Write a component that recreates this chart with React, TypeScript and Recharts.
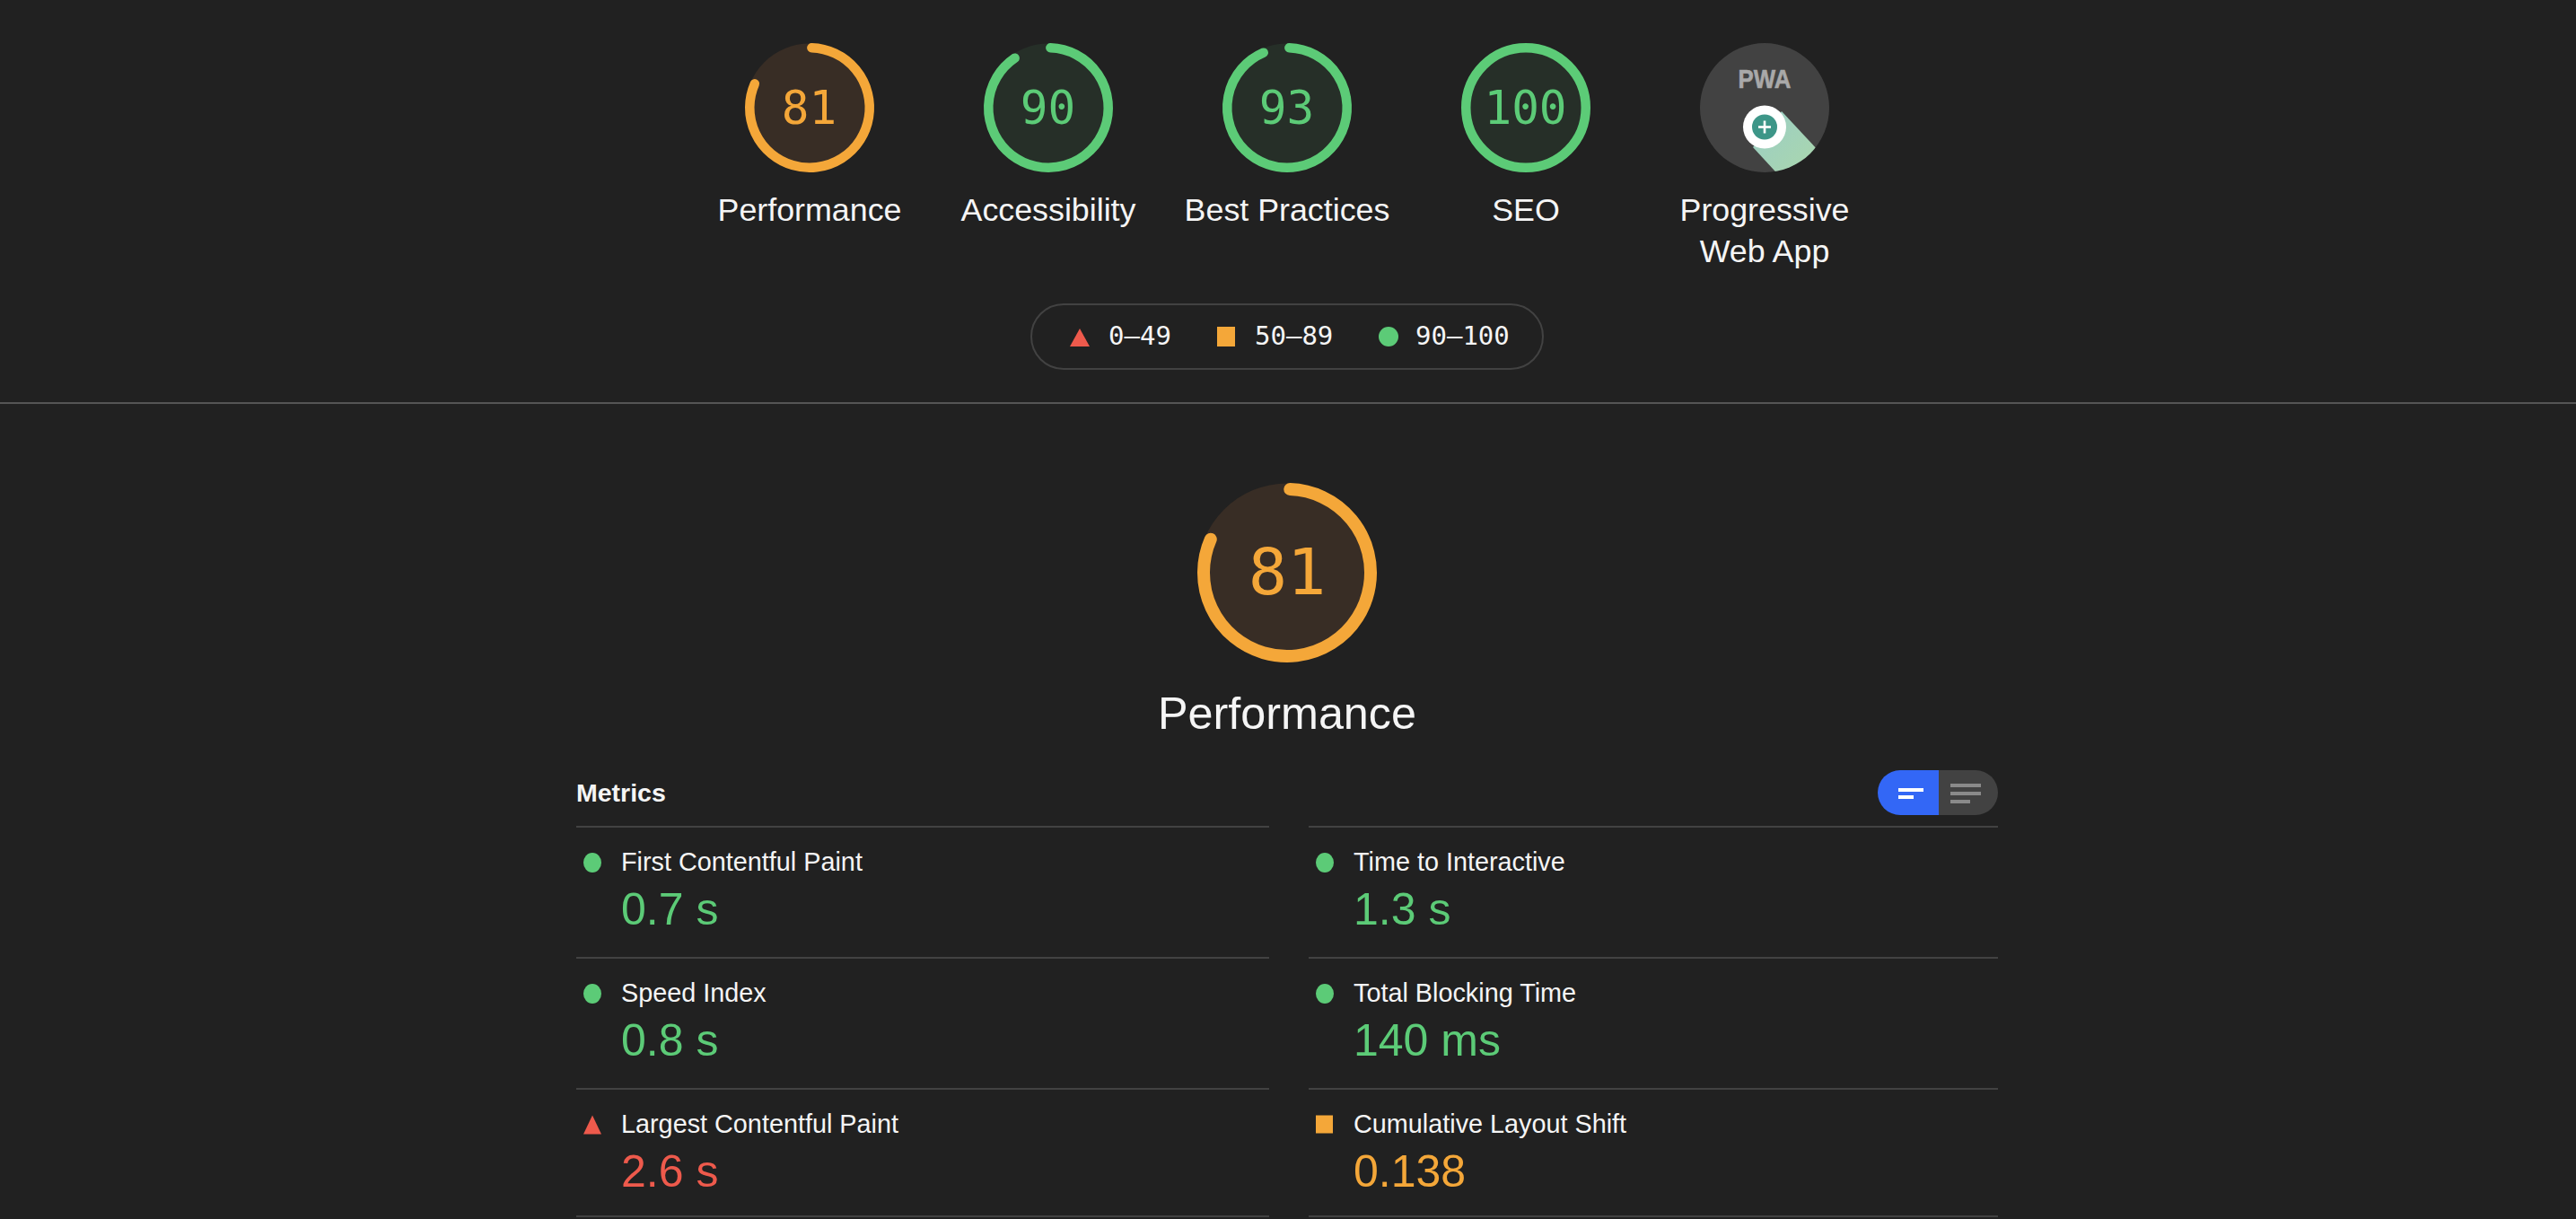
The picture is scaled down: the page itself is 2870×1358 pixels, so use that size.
import React from 'react';
import { PieChart, Pie } from 'recharts';

const gaugeNames = ['Performance', 'Accessibility', 'Best Practices', 'SEO'];
const gaugeScores = [81, 90, 93, 100];
const pwaLines = ['Progressive', 'Web App'];
const legendLabels = ['0–49', '50–89', '90–100'];
const leftMetricNames = ['First Contentful Paint', 'Speed Index', 'Largest Contentful Paint'];
const leftMetricValues = ['0.7 s', '0.8 s', '2.6 s'];
const leftMetricRatings = ['pass', 'pass', 'fail'];
const rightMetricNames = ['Time to Interactive', 'Total Blocking Time', 'Cumulative Layout Shift'];
const rightMetricValues = ['1.3 s', '140 ms', '0.138'];
const rightMetricRatings = ['pass', 'pass', 'average'];
const sectionScore = 81;
const sectionName = 'Performance';

const BG = '#212121';
const SANS = '"Liberation Sans", Arial, sans-serif';
const MONO = '"DejaVu Sans Mono", monospace';
const WHITE = '#f5f5f5';
const LINE = '#424242';
const COLORS: Record<string, string> = { pass: '#5ccb77', average: '#f4a739', fail: '#ee5a4c' };
const TINTS: Record<string, string> = { pass: '#262f28', average: '#382d25', fail: '#3a2725' };

const ratingOf = (s: number) => (s >= 90 ? 'pass' : s >= 50 ? 'average' : 'fail');

function ArcShape(props: any) {
  const { cx, cy, innerRadius, outerRadius, startAngle, endAngle, fill } = props;
  if (!fill || fill === 'none') return <g />;
  const r = (innerRadius + outerRadius) / 2;
  const w = outerRadius - innerRadius;
  const pt = (deg: number) => {
    const a = (deg * Math.PI) / 180;
    return [cx + r * Math.cos(a), cy - r * Math.sin(a)];
  };
  const sweep = Math.abs(endAngle - startAngle);
  if (sweep >= 359.9) {
    return <circle cx={cx} cy={cy} r={r} fill="none" stroke={fill} strokeWidth={w} />;
  }
  const [x0, y0] = pt(startAngle - 2);
  const [x1, y1] = pt(endAngle - 2);
  const large = sweep > 180 ? 1 : 0;
  return (
    <path
      d={`M${x0} ${y0}A${r} ${r} 0 ${large} 1 ${x1} ${y1}`}
      fill="none"
      stroke={fill}
      strokeWidth={w}
      strokeLinecap="round"
    />
  );
}

function gaugeArc(cx: number, cy: number, inner: number, outer: number, score: number, key: string) {
  const arc = [
    { name: 'score', value: score, fill: COLORS[ratingOf(score)] },
    { name: 'rest', value: 100 - score, fill: 'none' },
  ];
  return (
    <Pie
      key={key}
      data={arc}
      dataKey="value"
      cx={cx}
      cy={cy}
      innerRadius={inner}
      outerRadius={outer}
      startAngle={90}
      endAngle={-270}
      stroke="none"
      shape={ArcShape}
      isAnimationActive={false}
    />
  );
}

const GAUGE_X = [902, 1168, 1434, 1700];
const PWA_X = 1966;
const ROW_LABEL_Y = [970, 1116, 1262];
const ROW_VALUE_Y = [1030, 1176, 1322];
const ROW_LINES_Y = [921, 1067, 1213, 1355];

function Marker({ rating, x, cy }: { rating: string; x: number; cy: number }) {
  const c = COLORS[rating];
  if (rating === 'pass') return <ellipse cx={x} cy={cy} rx={10} ry={11} fill={c} />;
  if (rating === 'average') return <rect x={x - 10} y={cy - 10.5} width={19} height={20} fill={c} />;
  return <polygon points={`${x - 10},${cy + 10.5} ${x},${cy - 10.5} ${x + 10},${cy + 10.5}`} fill={c} />;
}

function MetricColumn({ left, width, names, values, ratings }: any) {
  return (
    <g>
      {ROW_LINES_Y.map((y) => (
        <rect key={y} x={left} y={y - 1} width={width} height={2} fill={LINE} />
      ))}
      {names.map((n: string, i: number) => (
        <g key={n}>
          <Marker rating={ratings[i]} x={left + 18} cy={ROW_LABEL_Y[i] - 9} />
          <text x={left + 50} y={ROW_LABEL_Y[i]} fontFamily={SANS} fontSize={28.8} fill={WHITE}>
            {n}
          </text>
          <text x={left + 50} y={ROW_VALUE_Y[i]} fontFamily={SANS} fontSize={50} fill={COLORS[ratings[i]]}>
            {values[i]}
          </text>
        </g>
      ))}
    </g>
  );
}

export default function App() {
  return (
    <div style={{ position: 'fixed', left: 0, top: 0, width: 2870, height: 1358, background: BG, overflow: 'hidden' }}>
      <PieChart width={2870} height={1358} margin={{ top: 0, right: 0, bottom: 0, left: 0 }}>
        <defs>
          <linearGradient id="pwaShadow" x1="0" y1="0" x2="1" y2="1">
            <stop offset="0" stopColor="#9acdc6" />
            <stop offset="1" stopColor="#afdaa6" />
          </linearGradient>
          <clipPath id="pwaClip">
            <circle cx={PWA_X} cy={120} r={72} />
          </clipPath>
        </defs>
        {gaugeScores.map((s, i) => (
          <circle key={'d' + i} cx={GAUGE_X[i]} cy={120} r={71.5} fill={TINTS[ratingOf(s)]} />
        ))}
        <circle cx={1434} cy={638} r={99.5} fill={TINTS[ratingOf(sectionScore)]} />
        {gaugeScores.map((s, i) => gaugeArc(GAUGE_X[i], 120, 61.5, 72, s, 'g' + i))}
        {gaugeArc(1434, 638, 86, 100, sectionScore, 'big')}

        {/* PWA badge */}
        <circle cx={PWA_X} cy={120} r={72} fill="#424242" />
        <g clipPath="url(#pwaClip)">
          <polygon points="1985,124 2040,183 2000,215 1953,164" fill="url(#pwaShadow)" />
        </g>
        <circle cx={PWA_X} cy={141.5} r={24} fill="#ffffff" />
        <circle cx={PWA_X} cy={141.5} r={14} fill="#3d9688" />
        <rect x={PWA_X - 7} y={140.2} width={14} height={2.6} fill="#ffffff" />
        <rect x={PWA_X - 1.3} y={134.5} width={2.6} height={14} fill="#ffffff" />
        <text
          x={0}
          y={98.5}
          textAnchor="middle"
          fontFamily={SANS}
          fontWeight={700}
          fontSize={30}
          fill="#a9a9a9"
          stroke="#a9a9a9"
          strokeWidth={0.6}
          transform={`translate(${PWA_X} 0) scale(0.86 1)`}
        >
          PWA
        </text>

        {gaugeScores.map((s, i) => (
          <text
            key={'s' + i}
            x={GAUGE_X[i] - 0.5}
            y={137.5}
            textAnchor="middle"
            fontFamily={MONO}
            fontSize={51}
            fill={COLORS[ratingOf(s)]}
          >
            {s}
          </text>
        ))}
        {gaugeNames.map((n, i) => (
          <text key={n} x={GAUGE_X[i]} y={246} textAnchor="middle" fontFamily={SANS} fontSize={35.8} fill={WHITE}>
            {n}
          </text>
        ))}
        {pwaLines.map((n, i) => (
          <text key={n} x={PWA_X} y={246 + i * 46} textAnchor="middle" fontFamily={SANS} fontSize={35.8} fill={WHITE}>
            {n}
          </text>
        ))}

        {/* Legend */}
        <rect x={1149} y={339} width={570} height={72} rx={36} ry={36} fill="none" stroke={LINE} strokeWidth={2} />
        <polygon points="1192,386 1203,366 1214,386" fill={COLORS.fail} />
        <rect x={1356} y={364} width={20} height={22} fill={COLORS.average} />
        <ellipse cx={1547} cy={375} rx={11} ry={11} fill={COLORS.pass} />
        {legendLabels.map((l, i) => (
          <text key={l} x={[1235, 1398, 1577][i]} y={384} fontFamily={MONO} fontSize={29} fill={WHITE}>
            {l}
          </text>
        ))}

        <rect x={0} y={448} width={2870} height={2} fill="#555555" />

        {/* Section gauge */}
        <text
          x={1434}
          y={662}
          textAnchor="middle"
          fontFamily={MONO}
          fontSize={72}
          fill={COLORS[ratingOf(sectionScore)]}
        >
          {sectionScore}
        </text>
        <text x={1434} y={812} textAnchor="middle" fontFamily={SANS} fontSize={50.3} fill={WHITE}>
          {sectionName}
        </text>

        <text x={642} y={893} fontFamily={SANS} fontWeight={700} fontSize={28.5} fill={WHITE}>
          Metrics
        </text>

        {/* Toggle */}
        <path d="M2160 858H2117A25 25 0 0 0 2117 908H2160Z" fill="#3367f6" />
        <path d="M2160 858H2201A25 25 0 0 1 2201 908H2160Z" fill="#424242" />
        <rect x={2115} y={878} width={28} height={4} fill="#ffffff" />
        <rect x={2115} y={886} width={17} height={4} fill="#ffffff" />
        <rect x={2173} y={873} width={34} height={4} fill="#8a8a8a" />
        <rect x={2173} y={882} width={34} height={4} fill="#8a8a8a" />
        <rect x={2173} y={891} width={22} height={4} fill="#8a8a8a" />

        <MetricColumn
          left={642}
          width={772}
          names={leftMetricNames}
          values={leftMetricValues}
          ratings={leftMetricRatings}
        />
        <MetricColumn
          left={1458}
          width={768}
          names={rightMetricNames}
          values={rightMetricValues}
          ratings={rightMetricRatings}
        />
      </PieChart>
    </div>
  );
}
